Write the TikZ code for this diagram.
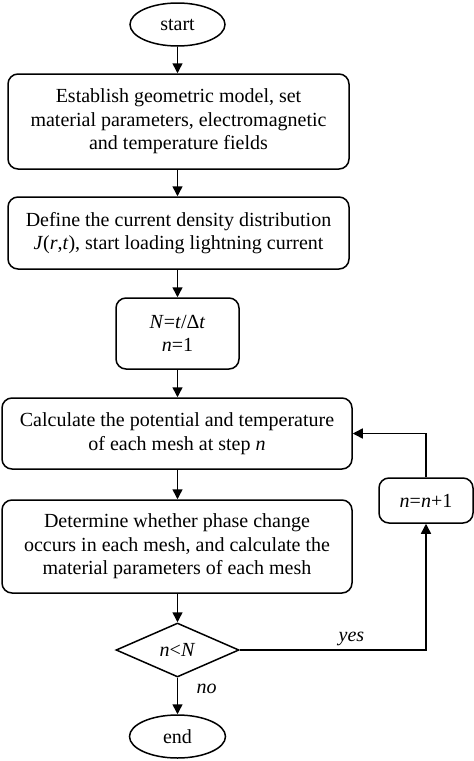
\documentclass[tikz,border=0pt]{standalone}
\usepackage{fontspec}
\setmainfont{Liberation Serif}
\usetikzlibrary{arrows.meta}
\usetikzlibrary{shapes.geometric}
\tikzset{
	box/.style={draw,line width=1.5pt,rounded corners=10pt,align=center,inner sep=0pt},
	terminal/.style={draw,ellipse,line width=1.5pt,inner sep=0pt,minimum width=95pt,minimum height=43pt},
	test/.style={draw,diamond,line width=1.5pt,inner sep=0pt,minimum width=123pt,minimum height=54pt},
	flow/.style={line width=1.5pt,-{Triangle[length=10pt,width=10pt]}}
}

\begin{document}
\begin{tikzpicture}[x=1pt,y=-1pt,font=\fontsize{20pt}{23.5pt}\selectfont]
	\useasboundingbox (0,0) rectangle (474,761);
	\node [terminal] (start) at (177.5,24.5) {start};
	\node [box,minimum width=341pt,minimum height=95pt] (model) at (178.5,121.5) {Establish geometric model, set\\material parameters, electromagnetic\\and temperature fields};
	\node [box,minimum width=341pt,minimum height=72pt] (current) at (178.5,233) {Define the current density distribution\\\textit{J}(\textit{r},\textit{t}), start loading lightning current};
	\node [box,minimum width=123pt,minimum height=71pt] (init) at (177.5,333.5) {\textit{N}=\textit{t}/Δ\textit{t}\\\textit{n}=1};
	\node [box,minimum width=350pt,minimum height=71pt] (calc) at (177,433.5) {Calculate the potential and temperature\\of each mesh at step \textit{n}};
	\node [box,minimum width=350pt,minimum height=93pt] (phase) at (177,546.5) {Determine whether phase change\\occurs in each mesh, and calculate the\\material parameters of each mesh};
	\node [test] (check) at (177.5,650) {\textit{n}<\textit{N}};
	\node [terminal,minimum width=96pt] (end) at (177.5,736.5) {end};
	\node [box,minimum width=94pt,minimum height=45pt] (inc) at (426,500.5) {\textit{n}=\textit{n}+1};
	% main column
	\draw [flow] (start.south) -- (start.south |- model.north);
	\draw [flow] (model.south -| start.south) -- (start.south |- current.north);
	\draw [flow] (current.south -| start.south) -- (start.south |- init.north);
	\draw [flow] (init.south -| start.south) -- (start.south |- calc.north);
	\draw [flow] (calc.south -| start.south) -- (start.south |- phase.north);
	\draw [flow] (phase.south -| start.south) -- (check.north);
	\draw [flow] (check.south) -- node [right,pos=0.3,xshift=15pt] {\textit{no}} (end.north);
	% loop back
	\draw [flow] (check.east) -- node [above,pos=0.6] {\textit{yes}} (check.east -| inc.south) -- (inc.south);
	\draw [flow] (inc.north) |- (calc.east);
\end{tikzpicture}
\end{document}
